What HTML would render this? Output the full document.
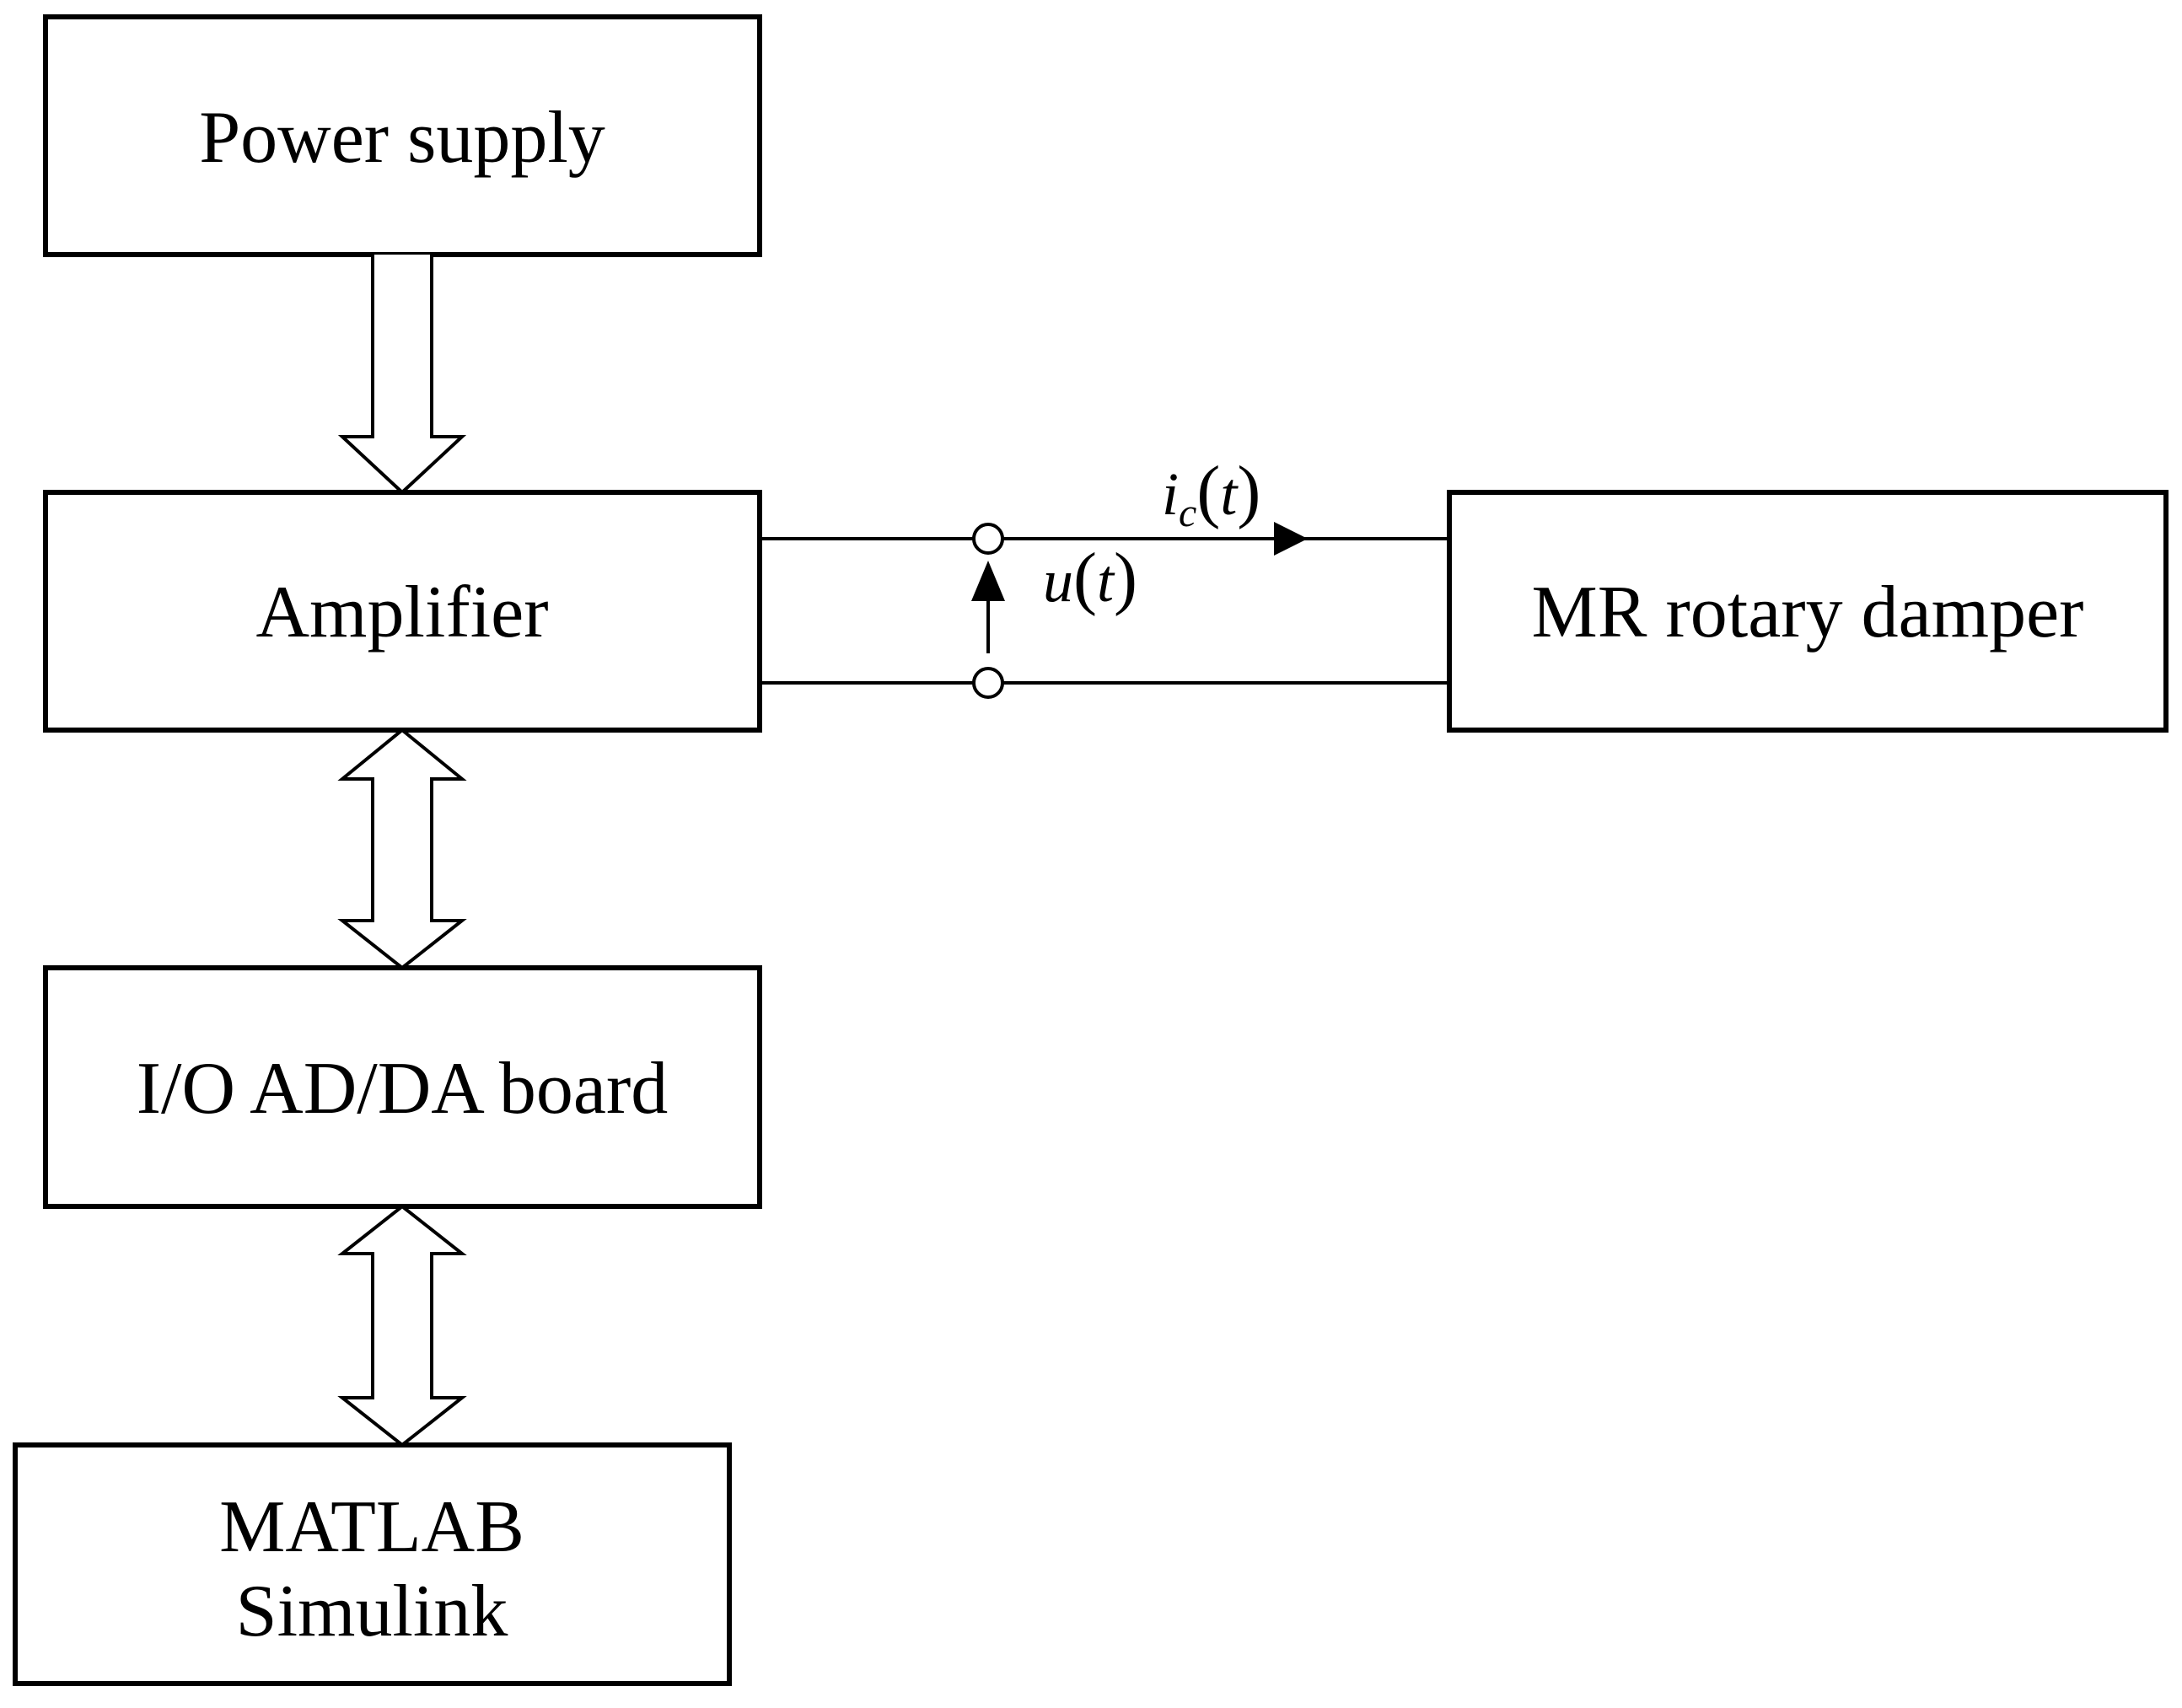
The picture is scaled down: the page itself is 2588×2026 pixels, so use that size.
<!DOCTYPE html>
<html><head><meta charset="utf-8"><style>html,body{margin:0;padding:0;background:#fff}</style></head>
<body>
<svg width="2588" height="2021" viewBox="0 0 2588 2021" xmlns="http://www.w3.org/2000/svg" font-family="Liberation Serif, serif">
<g fill="none" stroke="#000" stroke-width="6">
<rect x="54" y="20" width="847" height="282"/>
<rect x="54" y="584" width="847" height="282"/>
<rect x="54" y="1148" width="847" height="283"/>
<rect x="18" y="1714" width="847" height="283"/>
<rect x="1719" y="584" width="850" height="282"/>
</g>
<g fill="#fff" stroke="#000" stroke-width="4" stroke-linejoin="miter">
<path d="M442 302 V518 H406 L477 584 L548 518 H512 V302"/>
<path d="M477 866 L548 924 H512 V1092 H548 L477 1148 L406 1092 H442 V924 H406 Z"/>
<path d="M477 1431 L548 1487 H512 V1658 H548 L477 1714 L406 1658 H442 V1487 H406 Z"/>
</g>
<g stroke="#000" stroke-width="4" fill="none">
<line x1="901" y1="639" x2="1154" y2="639"/>
<line x1="1190" y1="639" x2="1719" y2="639"/>
<line x1="901" y1="810" x2="1154" y2="810"/>
<line x1="1190" y1="810" x2="1719" y2="810"/>
<circle cx="1172" cy="639" r="17"/>
<circle cx="1172" cy="810" r="17"/>
<line x1="1172" y1="775" x2="1172" y2="710"/>
</g>
<polygon points="1172,665 1152,713 1192,713" fill="#000"/>
<polygon points="1551,639 1511,619 1511,659" fill="#000"/>
<g font-size="88" text-anchor="middle" fill="#000">
<text x="477" y="192">Power supply</text>
<text x="477" y="755">Amplifier</text>
<text x="477" y="1320">I/O AD/DA board</text>
<text x="441" y="1840">MATLAB</text>
<text x="441" y="1940">Simulink</text>
<text x="2144" y="755">MR rotary damper</text>
</g>
<g font-size="72" fill="#000" font-style="italic">
<text x="1378" y="610">i<tspan font-size="48" dy="14">c</tspan><tspan dy="-14" font-style="normal" font-size="84">(</tspan>t<tspan font-style="normal" font-size="84">)</tspan></text>
<text x="1237" y="713">u<tspan font-style="normal" font-size="84">(</tspan>t<tspan font-style="normal" font-size="84">)</tspan></text>
</g>
</svg>
</body></html>
